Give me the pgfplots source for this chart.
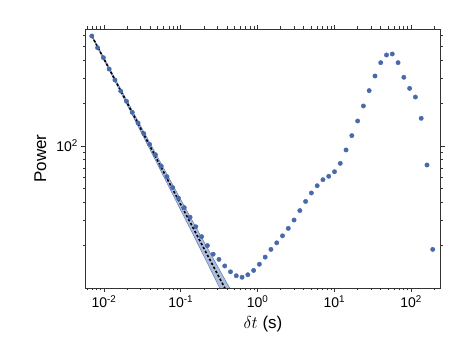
\documentclass[border=0pt]{standalone}
\usepackage{fontspec}
\setmainfont{Liberation Sans}
\usepackage{pgfplots}
\pgfplotsset{compat=1.18}
\definecolor{dotblue}{RGB}{72,105,170}
\definecolor{bandfill}{RGB}{160,177,214}
\definecolor{bandedge}{RGB}{100,126,185}

\begin{document}
\begin{tikzpicture}[x=1pt,y=1pt]
\path[use as bounding box] (0,0) rectangle (474,355);
\begin{axis}[
  at={(85.3pt,67pt)}, anchor=south west,
  scale only axis, width=355.4pt, height=259pt,
  xmode=log, ymode=log,
  xmin=0.00571, xmax=243, ymin=10, ymax=667,
  xtick={0.01,0.1,1,10,100},
  xticklabels={10\textsuperscript{-2},10\textsuperscript{-1},10\textsuperscript{0},10\textsuperscript{1},10\textsuperscript{2}},
  minor xtick={0.006,0.007,0.008,0.009,0.02,0.03,0.04,0.05,0.06,0.07,0.08,0.09,0.2,0.3,0.4,0.5,0.6,0.7,0.8,0.9,2,3,4,5,6,7,8,9,20,30,40,50,60,70,80,90,200},
  ytick={100}, yticklabels={10\textsuperscript{2}},
  minor ytick={20,30,40,50,60,70,80,90,200,300,400,500,600},
  tick align=outside,
  major tick length=4pt, minor tick length=2.5pt,
  tick style={black!80, line width=0.6pt},
  axis line style={black!80, line width=0.8pt},
  ticklabel style={font=\fontsize{14}{15}\selectfont},
  xlabel={$\delta t$ (s)}, ylabel={Power},
  label style={font=\fontsize{17}{18}\selectfont},
  xlabel style={yshift=-2pt},
  ylabel style={yshift=3pt},
  clip=true,
]
% confidence band
\addplot[fill=bandfill, draw=bandedge, line width=0.5pt, fill opacity=0.85] coordinates {
(0.007015,595.7) (0.01972,210.9) (0.04446,93.8) (0.1130,37.15) (0.1945,21.78) (0.4335,10) (0.7430,5.96)
(0.5140,5.96) (0.3214,10) (0.1574,21.78) (0.09528,37.15) (0.03999,93.8) (0.01858,210.9) (0.006887,595.7)
};
% data
\addplot[only marks, mark=*, mark size=2.2pt, color=dotblue, mark options={draw=dotblue, fill=dotblue}] coordinates {
(0.0069444,595.7) (0.0082584,492.0) (0.0098209,418.8) (0.0116791,348.3)
(0.0138889,291.7) (0.0165168,243.8) (0.0196419,206.5) (0.0233582,172.6)
(0.0277778,145.2) (0.0330336,122.2) (0.0392837,102.8) (0.0467164,86.9)
(0.0555556,72.3) (0.0660672,60.8) (0.0785674,50.9) (0.0934328,42.9)
(0.111111,36.8) (0.132134,31.5) (0.157135,27.0) (0.186866,23.0)
(0.222222,19.9) (0.264269,17.3) (0.314270,15.9) (0.373731,14.3)
(0.444444,13.0) (0.528538,12.2) (0.628539,11.9) (0.747462,12.4)
(0.888889,13.3) (1.057075,14.7) (1.257079,16.5) (1.494924,18.7)
(1.777778,20.8) (2.114150,23.3) (2.514157,26.3) (2.989848,30.1)
(3.555556,35.1) (4.228300,40.7) (5.028315,46.7) (5.979697,52.5)
(7.111111,57.9) (8.456600,61.2) (10.05663,65.9) (11.95939,75.5)
(14.22222,93.8) (16.91320,118.3) (20.11326,150.0) (23.91879,191.4)
(28.44444,245.5) (33.82640,311.2) (40.22652,386.4) (47.83757,437.5)
(56.88889,444.6) (67.65280,386.4) (80.45304,304.8) (95.67515,254.7)
(113.7778,221.3) (135.3056,156.7) (160.9061,73.5) (191.3503,18.7)
};
% power-law fit
\addplot[black, line width=1.6pt, dash pattern=on 2.5pt off 2pt] coordinates {
(0.0069444,595.7) (0.6,6.17)
};
\end{axis}
\end{tikzpicture}
\end{document}
